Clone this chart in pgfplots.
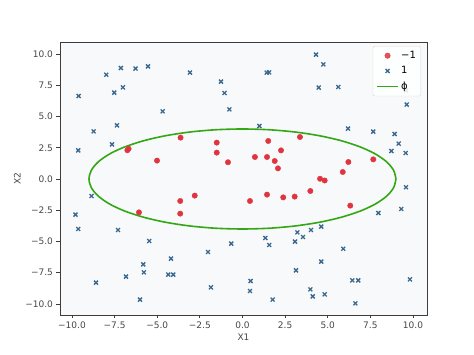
\documentclass[border=0pt]{standalone}
\usepackage{pgfplots}
\pgfplotsset{compat=1.18}
\usepackage{fontspec}
\setmainfont{DejaVu Sans}
\definecolor{cred}{RGB}{224,52,62}
\definecolor{cblue}{RGB}{58,104,142}
\definecolor{cgreen}{RGB}{52,168,20}
\definecolor{cbg}{RGB}{247,249,251}
\definecolor{cframe}{RGB}{60,60,60}
\definecolor{ctext}{RGB}{70,70,70}
\begin{document}
\begin{tikzpicture}
\useasboundingbox (0pt,0pt) rectangle (474pt,355pt);
\begin{axis}[
  at={(60pt,40pt)}, anchor=south west,
  width=367pt, height=273pt, scale only axis,
  xmin=-10.7, xmax=10.82, ymin=-10.88, ymax=10.96,
  axis background/.style={fill=cbg},
  axis line style={cframe, line width=0.8pt},
  xtick={-10,-7.5,-5,-2.5,0,2.5,5,7.5,10},
  ytick={-10,-7.5,-5,-2.5,0,2.5,5,7.5,10},
  xticklabels={−10.0,−7.5,−5.0,−2.5,0.0,2.5,5.0,7.5,10.0},
  yticklabels={−10.0,−7.5,−5.0,−2.5,0.0,2.5,5.0,7.5,10.0},
  xtick pos=left, ytick pos=left, tick align=outside,
  major tick length=3.5pt,
  tick style={cframe, line width=0.8pt},
  tick label style={font=\fontsize{9}{10}\selectfont, text=ctext},
  xlabel={X1}, ylabel={X2},
  label style={font=\fontsize{9}{10}\selectfont, text=ctext},
  xlabel style={yshift=2pt},
  ylabel style={yshift=-2pt},
  legend style={at={(0.984,0.985)}, anchor=north east, draw=gray!30, rounded corners=2pt,
    fill=white, fill opacity=0.85, text opacity=1, font=\fontsize{10}{12}\selectfont,
    row sep=2.5pt, inner sep=3pt},
  legend cell align=left,
]
\addplot[only marks, mark=*, mark size=2.7pt, color=cred,
  legend image code/.code={\draw[mark repeat=2,mark phase=2] plot coordinates {(0cm,0cm) (0.38cm,0cm) (0.76cm,0cm)};}] coordinates {
(-6.75,2.3) (-6.68,2.42) (-3.63,3.31) (-5.01,1.47) (-1.51,2.91) (-1.51,2.11)
(-0.85,1.34) (0.73,1.76) (1.44,1.76) (1.51,3.04) (2.26,2.29) (1.89,1.44)
(2.08,0.85) (3.37,3.36) (6.21,1.36) (7.67,1.57) (5.88,0.56) (4.55,0.02)
(4.82,-0.12) (3.98,-0.96) (6.32,-2.13) (-6.07,-2.67) (-3.65,-1.76) (-3.65,-2.77)
(-2.8,-1.33) (0.44,-1.76) (1.44,-1.25) (2.39,-1.47) (3.06,-1.41)
};
\addlegendentry{−1}
\addplot[only marks, mark=x, mark size=2.8pt, color=cblue, mark options={line width=1.3pt},
  legend image code/.code={\draw[mark repeat=2,mark phase=2] plot coordinates {(0cm,0cm) (0.38cm,0cm) (0.76cm,0cm)};}] coordinates {
(-7.99,8.34) (-7.13,8.88) (-6.27,8.83) (-5.54,9.01) (-9.61,6.64) (-7.52,6.91)
(-7.01,7.33) (-4.68,5.41) (-8.73,3.81) (-7.36,4.29) (-9.63,2.29) (-7.65,2.77)
(-3.08,8.51) (-1.26,7.79) (-1.05,6.88) (-0.77,5.57) (0.99,4.24) (1.42,8.51)
(1.56,8.53) (4.31,9.95) (4.74,9.17) (4.47,7.31) (5.62,7.36) (9.59,7.09)
(9.63,5.95) (6.19,4.03) (7.67,3.79) (8.92,3.6) (9.16,2.83) (8.73,2.24)
(9.57,2.08) (-8.85,-1.36) (-9.79,-2.85) (-9.63,-4.0) (-7.3,-4.08) (-5.47,-4.96)
(-4.19,-6.37) (-5.82,-6.83) (-5.78,-7.47) (-4.35,-7.65) (-4.06,-7.65) (-6.83,-7.81)
(-8.59,-8.29) (-6.01,-9.65) (-2.02,-5.84) (-0.66,-5.17) (1.34,-4.72) (1.57,-5.28)
(3.22,-4.27) (3.55,-4.64) (3.08,-5.01) (3.14,-7.31) (-1.85,-8.67) (0.48,-8.16)
(0.44,-8.96) (1.77,-9.65) (9.59,-0.66) (9.31,-2.4) (7.97,-2.72) (4.02,-4.08)
(4.62,-3.81) (5.91,-5.58) (4.62,-6.61) (6.44,-8.11) (6.79,-8.11) (9.82,-8.03)
(3.98,-8.83) (4.12,-9.39) (4.82,-9.23) (6.62,-9.95)
};
\addlegendentry{1}
\addplot[color=cgreen, line width=1.6pt, smooth, mark=none,
  legend image code/.code={\draw plot coordinates {(0cm,0cm) (0.76cm,0cm)};}] coordinates {
(9,0) (8.863,0.695) (8.457,1.368) (7.794,2.0) (6.894,2.571) (5.785,3.064) (4.5,3.464)
(3.078,3.759) (1.563,3.939) (0,4) (-1.563,3.939) (-3.078,3.759) (-4.5,3.464)
(-5.785,3.064) (-6.894,2.571) (-7.794,2.0) (-8.457,1.368) (-8.863,0.695) (-9,0)
(-8.863,-0.695) (-8.457,-1.368) (-7.794,-2.0) (-6.894,-2.571) (-5.785,-3.064) (-4.5,-3.464)
(-3.078,-3.759) (-1.563,-3.939) (0,-4) (1.563,-3.939) (3.078,-3.759) (4.5,-3.464)
(5.785,-3.064) (6.894,-2.571) (7.794,-2.0) (8.457,-1.368) (8.863,-0.695) (9,0)
};
\addlegendentry{ϕ}
\end{axis}
\end{tikzpicture}
\end{document}
